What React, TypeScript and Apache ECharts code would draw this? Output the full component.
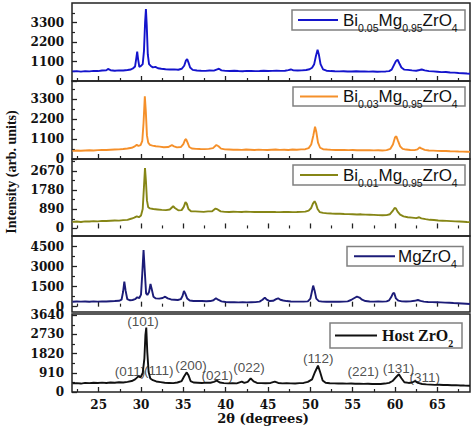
import React, { useEffect, useRef } from "react";
import * as echarts from "echarts";

// XRD patterns: [2θ (deg), intensity (arb. units)]
const bi005: number[][] = [
  [21.9,540],[22.4,560],[22.9,530],[23.4,555],[23.9,545],[24.4,570],[24.9,560],[25.4,590],[25.9,600],[26.1,680],[26.4,610],[26.9,580],[27.4,600],[27.9,590],[28.4,620],[28.8,650],[29.1,730],[29.3,820],[29.45,1300],[29.55,1660],[29.65,1250],[29.8,800],[30.0,850],[30.2,950],[30.35,1700],[30.48,3300],[30.58,4060],[30.68,3100],[30.8,1500],[30.95,950],[31.15,850],[31.4,770],[31.7,800],[32.0,720],[32.4,690],[32.9,660],[33.4,645],[33.9,655],[34.4,635],[34.8,690],[35.1,860],[35.3,1150],[35.45,1240],[35.6,1050],[35.8,760],[36.1,630],[36.6,595],[37.1,580],[37.6,570],[38.1,590],[38.6,585],[39.0,660],[39.2,690],[39.5,600],[40.0,570],[40.5,560],[41.0,575],[41.5,560],[42.0,550],[42.5,570],[43.0,565],[43.5,555],[44.0,560],[44.5,575],[45.0,560],[45.5,570],[46.0,580],[46.5,570],[47.0,580],[47.4,610],[47.7,650],[48.0,600],[48.5,590],[49.0,600],[49.5,620],[49.9,660],[50.2,750],[50.45,950],[50.65,1400],[50.85,1770],[51.0,1500],[51.2,950],[51.5,660],[51.9,580],[52.4,560],[52.9,550],[53.4,545],[53.9,550],[54.4,540],[54.9,535],[55.4,550],[55.9,540],[56.4,545],[56.9,530],[57.4,535],[57.9,520],[58.4,530],[58.9,540],[59.3,560],[59.6,640],[59.85,880],[60.1,1120],[60.3,1200],[60.5,1000],[60.75,760],[61.1,640],[61.5,630],[62.0,600],[62.5,580],[62.9,620],[63.15,650],[63.5,600],[64.0,560],[64.5,540],[65.0,520],[65.5,500],[66.0,510],[66.5,480],[67.0,470],[67.5,450],[68.0,440],[68.5,420],[68.85,410],
];

const bi003: number[][] = [
  [21.9,450],[22.4,470],[22.9,455],[23.4,470],[23.9,480],[24.4,470],[24.9,490],[25.4,500],[25.9,495],[26.4,510],[26.9,520],[27.4,530],[27.9,550],[28.4,580],[28.9,620],[29.2,680],[29.5,780],[29.7,720],[29.95,760],[30.15,1000],[30.3,2000],[30.45,3450],[30.57,2600],[30.7,1300],[30.85,900],[31.05,780],[31.35,740],[31.75,700],[32.2,680],[32.7,650],[33.2,660],[33.65,760],[33.9,700],[34.25,640],[34.7,660],[35.0,820],[35.2,1050],[35.32,1100],[35.5,900],[35.7,660],[36.0,580],[36.5,560],[37.0,550],[37.5,545],[38.0,560],[38.5,600],[38.9,770],[39.15,700],[39.45,570],[39.9,530],[40.4,520],[40.9,510],[41.4,515],[41.9,505],[42.4,520],[42.9,510],[43.4,500],[43.9,515],[44.4,505],[44.9,500],[45.4,510],[45.9,520],[46.4,505],[46.9,510],[47.4,500],[47.9,520],[48.4,510],[48.9,530],[49.4,540],[49.8,600],[50.1,800],[50.35,1300],[50.55,1780],[50.7,1500],[50.9,900],[51.15,620],[51.5,540],[52.0,520],[52.5,505],[53.0,500],[53.5,495],[54.0,505],[54.5,490],[55.0,500],[55.5,485],[56.0,490],[56.5,480],[57.0,485],[57.5,475],[58.0,480],[58.5,470],[59.0,490],[59.45,560],[59.75,800],[60.0,1200],[60.15,1250],[60.35,1000],[60.6,700],[60.9,560],[61.3,520],[61.8,500],[62.3,490],[62.65,530],[62.9,640],[63.1,580],[63.5,500],[64.0,470],[64.5,460],[65.0,450],[65.5,440],[66.0,445],[66.5,430],[67.0,420],[67.5,410],[68.0,405],[68.5,400],[68.85,395],
];

const bi001: number[][] = [
  [21.9,306],[22.4,320],[22.9,300],[23.4,330],[23.9,320],[24.4,340],[24.9,330],[25.4,350],[25.9,345],[26.4,360],[26.9,370],[27.4,365],[27.9,385],[28.4,400],[28.9,460],[29.2,500],[29.5,560],[29.75,520],[30.0,600],[30.2,900],[30.33,1800],[30.47,2800],[30.58,2200],[30.7,1300],[30.85,980],[31.05,930],[31.45,900],[31.95,880],[32.45,860],[32.95,850],[33.4,880],[33.8,1030],[34.0,950],[34.4,840],[34.8,850],[35.05,1000],[35.25,1220],[35.4,1150],[35.6,900],[35.9,800],[36.4,790],[36.9,780],[37.4,770],[37.9,790],[38.4,800],[38.8,920],[39.05,880],[39.4,790],[39.9,770],[40.4,765],[40.9,775],[41.4,770],[41.9,760],[42.4,780],[42.9,770],[43.4,760],[43.9,770],[44.4,765],[44.9,760],[45.4,770],[45.9,760],[46.4,755],[46.9,765],[47.4,760],[47.9,755],[48.4,760],[48.9,770],[49.4,780],[49.8,830],[50.1,950],[50.3,1150],[50.5,1265],[50.65,1150],[50.85,900],[51.1,760],[51.5,720],[52.0,700],[52.5,690],[53.0,685],[53.5,680],[54.0,670],[54.5,665],[55.0,660],[55.5,650],[56.0,655],[56.5,640],[57.0,635],[57.5,630],[58.0,620],[58.5,615],[59.0,620],[59.4,660],[59.7,800],[59.95,950],[60.1,930],[60.3,780],[60.6,640],[61.0,560],[61.5,520],[62.0,500],[62.5,480],[62.85,520],[63.1,470],[63.6,430],[64.1,400],[64.6,390],[65.1,370],[65.6,360],[66.1,350],[66.6,340],[67.1,330],[67.6,320],[68.1,310],[68.5,300],[68.85,295],
];

const mgZrO4: number[][] = [
  [21.9,370],[22.4,390],[22.9,375],[23.4,385],[23.9,370],[24.4,395],[24.9,380],[25.4,400],[25.9,390],[26.4,410],[26.9,420],[27.4,440],[27.7,520],[27.88,1100],[28.03,1870],[28.18,1200],[28.38,560],[28.7,480],[29.0,500],[29.3,560],[29.55,700],[29.8,650],[30.0,900],[30.15,2500],[30.3,4250],[30.45,2600],[30.6,1000],[30.75,880],[30.95,1100],[31.12,1700],[31.27,1300],[31.47,750],[31.75,620],[32.15,600],[32.55,650],[32.85,750],[33.15,620],[33.55,540],[33.95,520],[34.35,500],[34.7,560],[34.9,800],[35.07,1180],[35.22,1000],[35.45,620],[35.75,460],[36.2,430],[36.7,420],[37.2,430],[37.7,410],[38.2,420],[38.55,480],[38.85,630],[39.1,520],[39.5,400],[40.0,350],[40.5,330],[41.0,340],[41.5,325],[42.0,330],[42.5,320],[43.0,335],[43.5,340],[44.0,380],[44.35,520],[44.62,680],[44.85,520],[45.2,420],[45.6,440],[45.95,560],[46.2,630],[46.45,520],[46.8,460],[47.2,420],[47.7,390],[48.2,380],[48.7,375],[49.2,380],[49.7,400],[50.0,600],[50.17,1100],[50.33,1580],[50.5,1200],[50.7,600],[51.0,420],[51.4,380],[51.9,370],[52.4,375],[52.9,365],[53.4,370],[53.9,380],[54.4,400],[54.8,500],[55.2,650],[55.5,750],[55.8,680],[56.1,520],[56.5,420],[57.0,390],[57.5,380],[58.0,385],[58.5,380],[59.0,400],[59.3,480],[59.55,720],[59.75,1000],[59.9,1030],[60.1,620],[60.4,450],[60.8,400],[61.3,390],[61.8,400],[62.3,440],[62.7,500],[63.0,430],[63.4,380],[63.9,350],[64.4,340],[64.9,330],[65.4,320],[65.9,300],[66.4,290],[66.9,270],[67.4,260],[67.9,240],[68.4,220],[68.85,200],
];

const hostZrO2: number[][] = [
  [21.9,410],[22.4,420],[22.9,400],[23.4,430],[23.9,420],[24.4,440],[24.9,425],[25.4,445],[25.9,430],[26.4,450],[26.9,440],[27.4,460],[27.9,450],[28.4,480],[28.9,520],[29.3,600],[29.68,740],[29.95,700],[30.2,900],[30.4,1600],[30.52,2700],[30.62,3060],[30.74,1900],[30.9,950],[31.1,640],[31.4,560],[31.8,500],[32.3,470],[32.8,440],[33.3,430],[33.8,420],[34.3,450],[34.8,520],[35.1,750],[35.4,930],[35.6,800],[35.85,520],[36.2,450],[36.7,440],[37.2,430],[37.7,445],[38.2,440],[38.6,480],[38.95,540],[39.3,450],[39.8,420],[40.3,410],[40.8,420],[41.3,410],[41.9,490],[42.2,430],[42.6,480],[42.95,650],[43.3,500],[43.7,430],[44.2,420],[44.7,415],[45.3,430],[45.8,490],[46.2,430],[46.7,410],[47.2,415],[47.7,410],[48.2,405],[48.7,420],[49.2,430],[49.7,480],[50.2,600],[50.55,950],[50.9,1250],[51.15,950],[51.45,550],[51.8,440],[52.3,415],[52.8,410],[53.3,400],[53.8,405],[54.3,395],[54.8,400],[55.3,390],[55.8,395],[56.3,385],[56.8,390],[57.3,380],[57.8,385],[58.3,380],[58.8,400],[59.3,430],[59.7,520],[60.1,700],[60.45,840],[60.75,650],[61.1,460],[61.6,430],[62.0,450],[62.35,520],[62.7,430],[63.2,380],[63.7,360],[64.2,350],[64.7,340],[65.2,345],[65.7,330],[66.2,335],[66.7,320],[67.2,325],[67.7,310],[68.2,305],[68.85,300],
];

// Miller indices of the host ZrO2 reflections and where their labels sit
const millerText = ["(101)", "(011)", "(111)", "(200)", "(021)", "(022)", "(112)", "(221)", "(131)", "(311)"];
const millerTheta = [30.24, 28.7, 32.1, 35.9, 39.0, 42.75, 50.94, 56.25, 60.4, 63.5];
const millerIntensity = [3365, 962, 1043, 1280, 806, 1152, 1597, 962, 1123, 700];

// Panel legends: [text, isSubscript]
const legendParts: [string, boolean][][] = [
  [["Bi", false], ["0.05", true], ["Mg", false], ["0.95", true], ["ZrO", false], ["4", true]],
  [["Bi", false], ["0.03", true], ["Mg", false], ["0.95", true], ["ZrO", false], ["4", true]],
  [["Bi", false], ["0.01", true], ["Mg", false], ["0.95", true], ["ZrO", false], ["4", true]],
  [["MgZrO", false], ["4", true]],
  [["Host ZrO", false], ["2", true]],
];

const seriesColors = ["#1414cc", "#f5902a", "#868616", "#1c1c78", "#111111"];
const patterns = [bi005, bi003, bi001, mgZrO4, hostZrO2];

// Intensity axes, one per panel
const yMins = [0, 0, -350, -400, 0];
const yMaxs = [4400, 4300, 3220, 5300, 3700];
const yLabelValues = [
  [0, 1100, 2200, 3300],
  [0, 1100, 2200, 3300],
  [0, 890, 1780, 2670],
  [0, 1500, 3000, 4500],
  [0, 910, 1820, 2730, 3640],
];
const yMinorValues = [
  [550, 1650, 2750, 3850],
  [550, 1650, 2750, 3850],
  [445, 1335, 2225, 3115],
  [750, 2250, 3750],
  [455, 1365, 2275, 3185],
];

// 2θ axis
const thetaMin = 21.85;
const thetaMax = 68.85;
const thetaLabels = [25, 30, 35, 40, 45, 50, 55, 60, 65];
const thetaMinor = [22.5, 27.5, 32.5, 37.5, 42.5, 47.5, 52.5, 57.5, 62.5, 67.5];

const TICK_FONT = '"DejaVu Serif"';
const FRAME = "#222";

export default function App() {
  const ref = useRef<HTMLDivElement>(null);

  useEffect(() => {
    const chart = echarts.init(ref.current!, null, { renderer: "svg" });

    const gridTop = [3, 81, 159, 236, 314];
    const gridH = [78, 78, 77, 76, 78];

    const grids = gridTop.map((t, i) => ({
      left: 72,
      right: 4,
      top: t,
      height: gridH[i],
      show: true,
      borderColor: FRAME,
      borderWidth: 1.5,
      backgroundColor: "transparent",
    }));

    const plain = (v: number) => String(v);

    const xAxes: any[] = [];
    const yAxes: any[] = [];
    for (let i = 0; i < 5; i++) {
      const last = i === 4;
      xAxes.push({
        type: "value",
        gridIndex: i,
        min: thetaMin,
        max: thetaMax,
        position: "bottom",
        axisLine: { show: false },
        splitLine: { show: false },
        axisTick: { show: true, inside: true, length: 5, customValues: thetaLabels, lineStyle: { color: FRAME, width: 1.3 } },
        axisLabel: last
          ? { show: true, customValues: thetaLabels, formatter: plain, fontFamily: TICK_FONT, fontWeight: "bold", fontSize: 12, color: "#111", margin: 7 }
          : { show: false },
      });
      xAxes.push({
        type: "value",
        gridIndex: i,
        min: thetaMin,
        max: thetaMax,
        position: "bottom",
        axisLine: { show: false },
        splitLine: { show: false },
        axisTick: { show: true, inside: true, length: 3, customValues: thetaMinor, lineStyle: { color: FRAME, width: 1.2 } },
        axisLabel: { show: false },
      });
      yAxes.push({
        type: "value",
        gridIndex: i,
        min: yMins[i],
        max: yMaxs[i],
        position: "left",
        axisLine: { show: false },
        splitLine: { show: false },
        axisTick: { show: true, inside: true, length: 5, customValues: yLabelValues[i], lineStyle: { color: FRAME, width: 1.3 } },
        axisLabel: { show: true, customValues: yLabelValues[i], formatter: plain, fontFamily: TICK_FONT, fontWeight: "bold", fontSize: 12, color: "#111", margin: 8 },
      });
      yAxes.push({
        type: "value",
        gridIndex: i,
        min: yMins[i],
        max: yMaxs[i],
        position: "left",
        axisLine: { show: false },
        splitLine: { show: false },
        axisTick: { show: true, inside: true, length: 3, customValues: yMinorValues[i], lineStyle: { color: FRAME, width: 1.2 } },
        axisLabel: { show: false },
      });
    }

    const lineSeries = patterns.map((d, i) => ({
      type: "line",
      xAxisIndex: 2 * i,
      yAxisIndex: 2 * i,
      data: d,
      symbol: "none",
      showSymbol: false,
      lineStyle: { color: seriesColors[i], width: 1.9 },
      itemStyle: { color: seriesColors[i] },
      z: 3,
    }));

    const millerSeries = {
      type: "scatter",
      xAxisIndex: 8,
      yAxisIndex: 8,
      symbolSize: 0,
      silent: true,
      z: 2,
      data: millerTheta.map((x, k) => ({ value: [x, millerIntensity[k]], name: millerText[k] })),
      label: {
        show: true,
        position: "inside",
        formatter: "{b}",
        fontFamily: '"Liberation Sans"',
        fontSize: 13.5,
        color: "#222",
      },
    };

    // legend boxes: [x, y, w, h, lineX1, lineX2, textX]
    const legendBoxes = [
      [292, 10, 173, 20, 298, 338, 343],
      [293, 87, 172, 19, 300, 338, 343],
      [293, 165, 172, 20, 300, 338, 343],
      [347, 246.5, 116, 19.5, 354, 395, 398],
      [330, 323, 132, 25, 335, 377, 382],
    ];

    const graphics: any[] = [];
    legendBoxes.forEach((b, i) => {
      const [x, y, w, h, l1, l2, tx] = b;
      const cy = y + h / 2;
      const serif = i === 4;
      const richText = legendParts[i].map(([t, s]) => `{${s ? "s" : "m"}|${t}}`).join("");
      graphics.push({
        type: "rect",
        shape: { x, y, width: w, height: h },
        style: { fill: "#fff", stroke: "#808080", lineWidth: 1.5 },
        z: 10,
      });
      graphics.push({
        type: "line",
        shape: { x1: l1, y1: cy, x2: l2, y2: cy },
        style: { stroke: seriesColors[i], lineWidth: 2.2 },
        z: 11,
      });
      graphics.push({
        type: "text",
        x: tx,
        y: cy,
        z: 11,
        style: {
          text: richText,
          align: "left",
          verticalAlign: "middle",
          rich: {
            m: serif
              ? { fontFamily: '"Liberation Serif"', fontWeight: "bold", fontSize: 16, lineHeight: 26, fill: "#111", verticalAlign: "middle" }
              : { fontFamily: '"Liberation Sans"', fontSize: 17, lineHeight: 26, fill: "#111", verticalAlign: "middle" },
            s: serif
              ? { fontFamily: '"Liberation Serif"', fontWeight: "bold", fontSize: 10, lineHeight: 10, fill: "#111", verticalAlign: "bottom" }
              : { fontFamily: '"Liberation Sans"', fontSize: 10.5, lineHeight: 10, fill: "#111", verticalAlign: "bottom" },
          },
        },
      });
    });

    graphics.push({
      type: "text",
      x: 11,
      y: 172,
      rotation: Math.PI / 2,
      style: {
        text: "Intensity (arb. units)",
        align: "center",
        verticalAlign: "middle",
        font: 'bold 14px "Liberation Serif"',
        fill: "#111",
      },
    });
    graphics.push({
      type: "text",
      x: 263,
      y: 418,
      style: {
        text: "2θ (degrees)",
        align: "center",
        verticalAlign: "middle",
        font: 'bold 13px "DejaVu Serif"',
        fill: "#111",
      },
    });

    chart.setOption({
      animation: false,
      backgroundColor: "#fff",
      grid: grids,
      xAxis: xAxes,
      yAxis: yAxes,
      series: [...lineSeries, millerSeries],
      graphic: graphics,
    });

    return () => chart.dispose();
  }, []);

  return (
    <div
      ref={ref}
      style={{ position: "absolute", left: 0, top: 0, width: 474, height: 430, background: "#fff" }}
    />
  );
}
